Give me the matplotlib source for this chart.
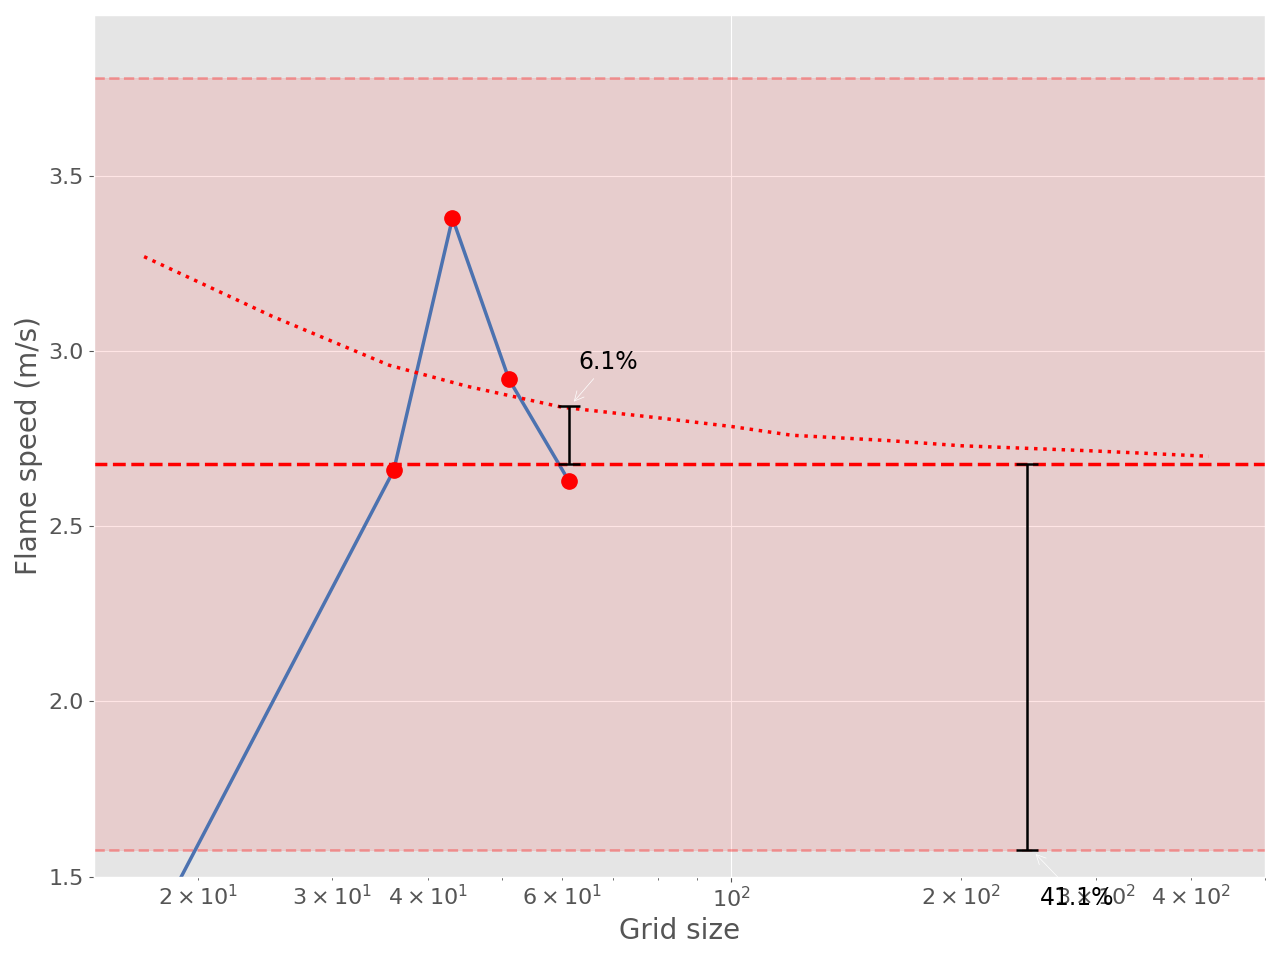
import matplotlib
matplotlib.use("Agg")
import matplotlib.pyplot as plt
from matplotlib.ticker import FuncFormatter

grid = [18.0, 36.1, 43.1, 51.1, 61.2]
speed = [1.40, 2.66, 3.38, 2.92, 2.63]
extrap_x = [17.0, 25.0, 35.6, 45.0, 60.0, 80.0, 100.0, 120.0, 160.0, 200.0, 300.0, 422.0]
extrap_y = [3.27, 3.10, 2.96, 2.90, 2.84, 2.81, 2.785, 2.76, 2.745, 2.73, 2.715, 2.70]
ref_speed = 2.677
band = [1.575, 3.78]
err1_x, err1 = 61.2, [2.677, 2.843]
err2_x, err2 = 244.0, [1.575, 2.677]
labels = ["6.1%", "41.1%"]
minor_labelled = [2, 3, 4, 6]

plt.style.use("ggplot")
fig, ax = plt.subplots(figsize=(12.8, 9.6), dpi=100)
ax.axhspan(band[0], band[1], color="red", alpha=0.1)
ax.axhline(band[0], color="red", ls="--", lw=2, alpha=0.3)
ax.axhline(band[1], color="red", ls="--", lw=2, alpha=0.3)
ax.plot(grid, speed, color="#4c72b0", lw=2.5)
ax.plot(grid[1:], speed[1:], "o", color="red", ms=11)
ax.plot(extrap_x, extrap_y, ":", color="red", lw=2.5)
ax.axhline(ref_speed, color="red", ls="--", lw=2.5)
for x, e in [(err1_x, err1), (err2_x, err2)]:
    ax.errorbar([x], [(e[0] + e[1]) / 2], yerr=[[(e[1] - e[0]) / 2]], color="black",
                capsize=8, lw=1.8, capthick=1.8)
ax.annotate(labels[0], xy=(err1_x * 1.01, 2.85), xytext=(err1_x * 1.03, 2.95),
            fontsize=17, arrowprops=dict(arrowstyle="->", color="white"))
ax.annotate(labels[1], xy=(err2_x * 1.02, 1.57), xytext=(err2_x * 1.04, 1.42),
            fontsize=17, arrowprops=dict(arrowstyle="->", color="white"))
ax.set_xscale("log")
ax.set_xlim(14.6, 500)
ax.set_ylim(1.5, 3.96)
ax.set_yticks([1.5, 2.0, 2.5, 3.0, 3.5])


def minor_fmt(v, pos):
    import math
    e = int(math.floor(math.log10(v) + 1e-9))
    m = round(v / 10 ** e)
    if m in minor_labelled:
        return r"$\mathdefault{%d\times10^{%d}}$" % (m, e)
    return ""


ax.xaxis.set_minor_formatter(FuncFormatter(minor_fmt))
ax.set_xlabel("Grid size", fontsize=20)
ax.set_ylabel("Flame speed (m/s)", fontsize=20)
ax.tick_params(labelsize=16, which="both")
fig.tight_layout()
fig.savefig("out.png")
